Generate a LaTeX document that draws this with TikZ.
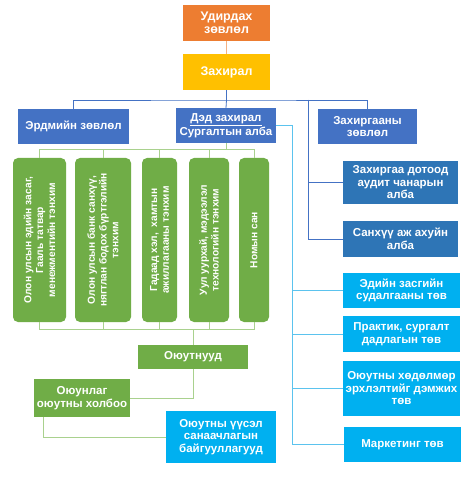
\documentclass[tikz,border=0pt]{standalone}
\usepackage{fontspec}
\setmainfont{Liberation Sans}
\usetikzlibrary{positioning}

\definecolor{boardorange}{HTML}{ED7D31}
\definecolor{chiefyellow}{HTML}{FFC000}
\definecolor{councilblue}{HTML}{4472C4}
\definecolor{officeblue}{HTML}{2E75B6}
\definecolor{centreblue}{HTML}{00B0F0}
\definecolor{deptgreen}{HTML}{70AD47}
\definecolor{linegreen}{HTML}{A9D18E}
\definecolor{linesky}{HTML}{5BC3EE}

\tikzset{
    orgbox/.style={text=white, font=\bfseries\fontsize{11.5}{12.5}\selectfont,
        align=center, inner sep=0pt},
    headbox/.style={orgbox, minimum width=87pt, minimum height=36pt,
        font=\bfseries\fontsize{12.5}{13.5}\selectfont},
    council/.style={orgbox, fill=councilblue},
    office/.style={orgbox, fill=officeblue},
    centre/.style={orgbox, fill=centreblue},
    green/.style={orgbox, fill=deptgreen},
    dept/.style={green, rounded corners=5pt, rotate=90, minimum width=164pt,
        font=\bfseries\fontsize{10.2}{11.8}\selectfont},
    topline/.style={draw=councilblue, line width=0.8pt},
    skyline/.style={draw=linesky, line width=1pt},
    greenline/.style={draw=linegreen, line width=1pt},
}

\begin{document}
\begin{tikzpicture}[x=1pt, y=-1pt]
    \useasboundingbox[fill=white] (0,0) rectangle (474,494);

    % management
    \node[headbox, fill=boardorange] (board) at (226.5,23) {Удирдах\\зөвлөл};
    \node[headbox, fill=chiefyellow] (director) at (226.5,72) {Захирал};
    \node[council, minimum width=111pt, minimum height=35pt] (academic) at (73.5,126.5) {Эрдмийн зөвлөл};
    \node[council, minimum width=100pt, minimum height=35pt] (deputy) at (226,125.5) {\underline{Дэд захирал}\\Сургалтын алба};
    \node[council, minimum width=99pt, minimum height=35pt] (admin) at (367.5,126.5) {Захиргааны\\зөвлөл};

    % offices and centres
    \node[office, minimum width=115pt, minimum height=43pt] (audit) at (400.5,182.5) {Захиргаа дотоод\\аудит чанарын\\алба};
    \node[office, minimum width=115pt, minimum height=36pt] (finance) at (400.5,239) {Санхүү аж ахуйн\\алба};
    \node[centre, minimum width=117pt, minimum height=35pt] (econ) at (401.5,290.5) {Эдийн засгийн\\судалгааны төв};
    \node[centre, minimum width=117pt, minimum height=36pt] (practice) at (401.5,334) {Практик, сургалт\\дадлагын төв};
    \node[centre, minimum width=117pt, minimum height=55pt] (employ) at (401.5,388.5) {Оюутны хөдөлмөр\\эрхлэлтийг дэмжих\\төв};
    \node[centre, minimum width=117pt, minimum height=35pt] (marketing) at (402.5,444.5) {Маркетинг төв};

    % departments
    \node[dept, minimum height=53pt] (g1) at (39.5,240) {Олон улсын эдийн засаг,\\Гааль татвар\\менежментийн тэнхим};
    \node[dept, minimum height=56pt] (g2) at (103,240) {Олон улсын банк санхүү,\\нягтлан бодох бүртгэлийн\\тэнхим};
    \node[dept, minimum height=35pt] (g3) at (159.5,240) {Гадаад хэл,\ \ хамтын\\ажиллагааны тэнхим};
    \node[dept, minimum height=40pt] (g4) at (209,240) {Уул уурхай, мэдээлэл\\технологийн тэнхим};
    \node[dept, minimum height=30pt] (g5) at (254,240) {Номын сан};

    % students
    \node[green, minimum width=110pt, minimum height=24pt] (students) at (193,357) {Оюутнууд};
    \node[green, minimum width=96pt, minimum height=38pt] (union) at (82,398) {Оюунлаг\\оюутны холбоо};
    \node[centre, minimum width=110pt, minimum height=52pt] (initiative) at (221,437) {Оюутны үүсэл\\санаачлагын\\байгууллагууд};

    \coordinate (topbus) at (226.5,100);
    \coordinate (adminbus) at (308.5,100);
    \coordinate (skybus) at (292,125.5);
    \coordinate (depttop) at (226,150);
    \coordinate (deptfoot) at (193,329);
    \coordinate (unionfoot) at (43,417);

    \draw[draw=boardorange!60, line width=0.8pt] (board) -- (director);
    \draw[topline] (director) -- (topbus);
    \draw[topline] (academic.north) |- (topbus) -| (admin.north);
    \draw[topline] (topbus) -- (deputy.north);
    \foreach \n in {audit,finance}
        \draw[topline] (adminbus) |- (\n.west);

    \draw[skyline] (deputy.east) -- (skybus);
    \foreach \n in {econ,practice,employ,marketing}
        \draw[skyline] (skybus) |- (\n.west);

    \draw[greenline] (deputy.south) -- (depttop);
    \foreach \n in {g1,g2,g3,g4,g5} {
        \draw[greenline] (\n.east) |- (depttop);
        \draw[greenline] (\n.west) |- (deptfoot);
    }
    \draw[greenline] (deptfoot) -- (students.north);
    \draw[greenline] (students.south) |- (union.east);
    \draw[greenline] (unionfoot) |- (initiative.west);
\end{tikzpicture}
\end{document}
